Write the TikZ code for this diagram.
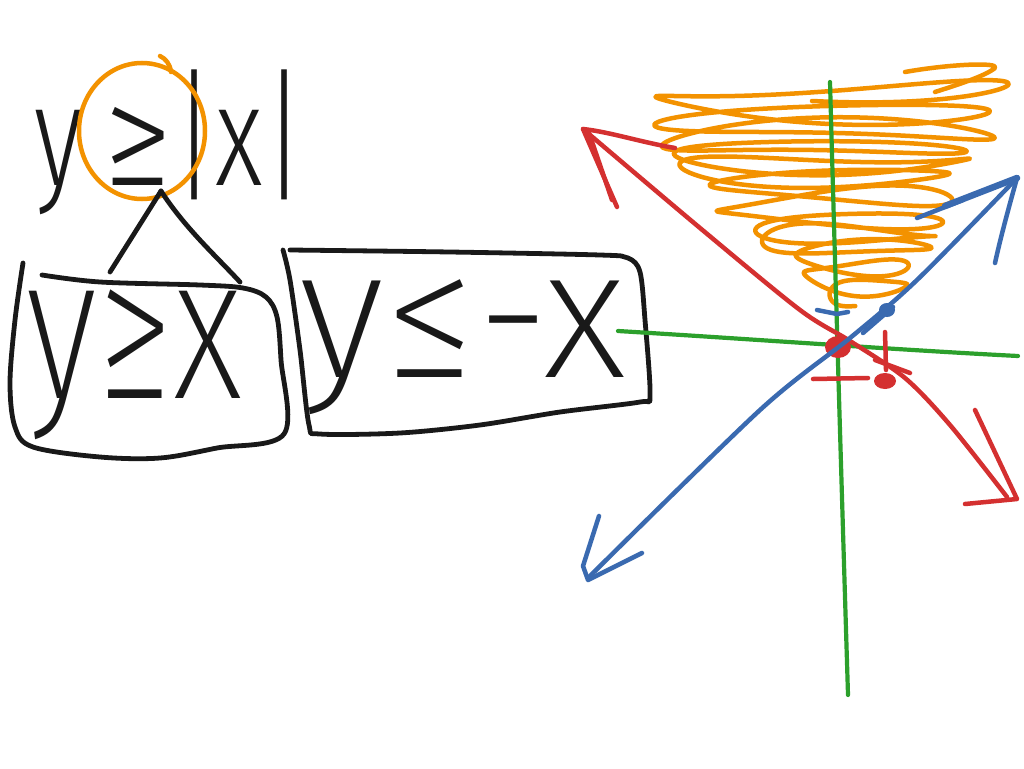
\documentclass[tikz,border=0pt]{standalone}
\usepackage{fontspec}
\usepackage{graphicx}
\newfontfamily\hand{Fira Sans ExtraLight}
\newfontfamily\handmain{Fira Sans Light}
\usetikzlibrary{shapes.geometric}
\definecolor{inkS}{RGB}{25,25,25}
\definecolor{orangeS}{RGB}{243,146,0}
\definecolor{redS}{RGB}{212,48,48}
\definecolor{blueS}{RGB}{58,106,176}
\definecolor{greenS}{RGB}{44,160,44}
\tikzset{
  ink/.style={draw=inkS, line width=4.8pt, line cap=round, line join=round},
  orangeline/.style={draw=orangeS, line width=4.5pt, line cap=round, line join=round},
  redline/.style={draw=redS, line width=4.5pt, line cap=round, line join=round},
  blueline/.style={draw=blueS, line width=4.5pt, line cap=round, line join=round},
  greenline/.style={draw=greenS, line width=4.2pt, line cap=round, line join=round},
  handtext/.style={inner sep=0pt, text=inkS, font=\hand},
}
\begin{document}
\begin{tikzpicture}[x=1pt,y=-1pt]
\fill[white] (0,0) rectangle (1024,768);
\useasboundingbox (0,0) rectangle (1024,768);

% --- left: inequality and its two cases
\node[handtext, font=\handmain] (main) at (170,142) {\resizebox*{270pt}{145pt}{y\kern0.2em\scalebox{1.35}[1]{≥}|x|}};
\node[draw=orangeS, line width=4.5pt, ellipse, minimum width=126pt, minimum height=136pt, inner sep=0pt] (ring) at (142,131) {};
\draw[orangeline] (160,56) .. controls (166,59) and (170,64) .. (171,72);

\coordinate (apex) at (161,191);
\coordinate (leftfoot) at (110,272);
\coordinate (rightfoot) at (240,282);
\draw[ink] (apex) -- (leftfoot);
\draw[ink] (apex) .. controls (185,228) and (215,255) .. (rightfoot);

\draw[ink] plot[smooth, tension=0.55] coordinates {(23,263) (15,320) (10,383) (15,427) (33,447) (100,457) (160,458) (217,448) (284,434) (281,360) (277,317) (266,297) (243,288) (200,285) (100,282) (42,275)};
\node[handtext] (case1) at (135,365) {\resizebox*{216pt}{150pt}{y≥x}};

\draw[ink] plot[smooth, tension=0.5] coordinates {(290,250) (450,252) (600,255) (628,258) (640,272) (645,320) (650,395) (640,402) (560,412) (480,425) (400,433) (320,434) (309,425) (300,350) (290,280) (283,250)};
\node[handtext] (case2) at (463,347) {\resizebox*{327pt}{135pt}{y≤-x}};

% --- right: graph
\draw[orangeline] plot[domain=0:75.4, samples=700, variable=\t, smooth]
  ({812 + 48*(\t/75.4) + 8*sin(0.55*\t r) + (178 - 150*pow(\t/75.4,1.4))*(1+0.07*sin(0.9*\t r+1))*sin(\t r)},
   {90 + 208*(\t/75.4) + (11 + 5*sin(1.3*\t r))*cos(\t r) - 0.06*sin(0.8*\t r)*(178 - 150*pow(\t/75.4,1.4))*sin(\t r)});
\draw[orangeline] (905,72) .. controls (950,64) and (1000,62) .. (995,68) .. controls (985,76) and (960,84) .. (935,92);

\draw[greenline] (830,82) .. controls (836,300) and (842,500) .. (848,695);
\draw[greenline] (618,331) .. controls (750,339) and (900,350) .. (1018,356);

\draw[redline] plot[smooth] coordinates {(583,129) (700,228) (800,310) (850,341) (905,378) (950,425) (1007,497)};
\draw[redline] (675,148) .. controls (640,142) and (610,132) .. (583,129) -- (617,207);
\draw[redline] (589,133) -- (612,200);
\draw[redline] (975,410) -- (1017,499) -- (965,504);
\fill[redS] (838,347) ellipse [x radius=13pt, y radius=11pt];
\fill[redS] (885,381) ellipse [x radius=11pt, y radius=8pt];
\draw[redline] (813,379) -- (868,378);
\draw[redline] (885,332) -- (886,370);
\draw[redline] (875,360) -- (910,373);

\draw[blueline] plot[smooth] coordinates {(588,578) (760,410) (850,338) (917,280) (1017,178)};
\draw[blueline] (599,516) -- (583,566) -- (588,580) -- (642,553);
\draw[blueline] (917,218) -- (963,200);
\draw[blueline, line width=6.5pt] (945,206) -- (1017,178);
\draw[blueline] (1017,178) .. controls (1008,210) and (1000,240) .. (995,263);
\draw[blueline] (817,310) -- (837,314) -- (848,312);
\fill[blueS] (887,310) ellipse [x radius=8pt, y radius=7pt];
\draw[blueline] (863,333) -- (893,307);
\end{tikzpicture}
\end{document}
